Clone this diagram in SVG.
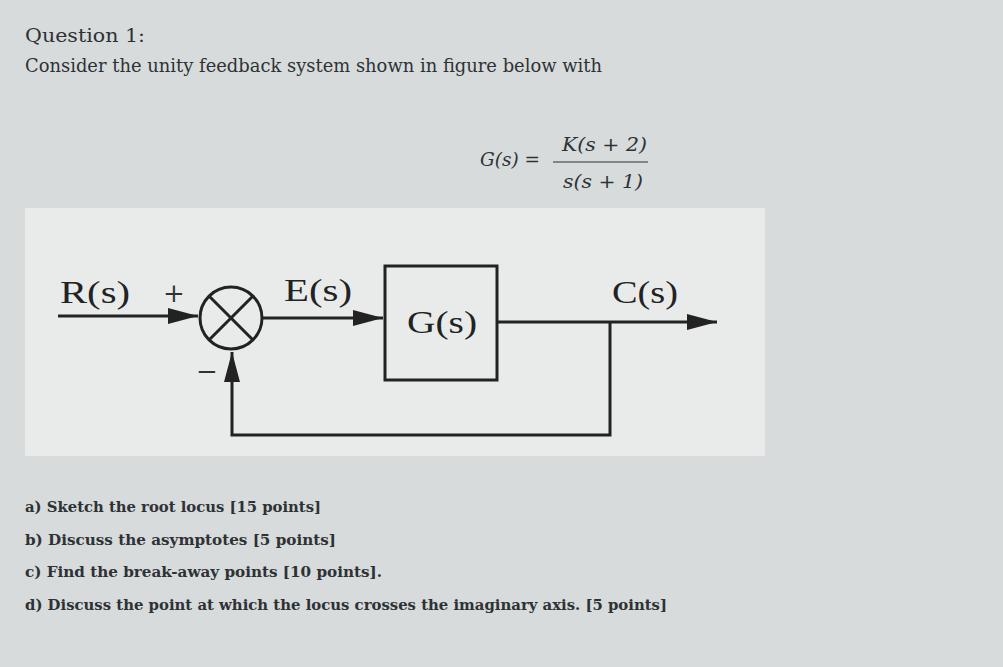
<svg xmlns="http://www.w3.org/2000/svg" width="1003" height="667" viewBox="0 0 1003 667">
<style>
.t{font-family:"DejaVu Serif","Liberation Serif",serif;fill:#2e3236}
.q{font-size:18px}
.b{font-size:15px;font-weight:bold}
.d{font-size:32px;font-family:"Liberation Serif",serif;fill:#222}
.m{font-size:18px;font-style:italic}
.ln{stroke:#222;stroke-width:3;fill:none}
</style>
<defs>
<marker id="A" viewBox="0 0 30 16" refX="30" refY="8" markerWidth="30" markerHeight="16" orient="auto" markerUnits="userSpaceOnUse"><path d="M0,0L30,8L0,16z" fill="#222"/></marker></defs>
<rect width="1003" height="667" fill="#d7dbdb"/>
<rect x="25" y="208" width="740" height="248" fill="#e9ebea"/>
<text class="t q" x="25" y="42" textLength="120" lengthAdjust="spacingAndGlyphs">Question 1:</text>
<text class="t q" x="25" y="72" textLength="577" lengthAdjust="spacingAndGlyphs">Consider the unity feedback system shown in figure below with</text>
<g id="formula">
<text class="t m" x="480" y="166" textLength="60" lengthAdjust="spacingAndGlyphs">G(s) =</text>
<text class="t m" x="562" y="151" textLength="85" lengthAdjust="spacingAndGlyphs">K(s + 2)</text>
<line x1="553" y1="162" x2="648" y2="162" stroke="#333" stroke-width="1.2"/>
<text class="t m" x="563" y="188" textLength="80" lengthAdjust="spacingAndGlyphs">s(s + 1)</text>
</g>
<g id="connectors">
<line class="ln" x1="58" y1="316" x2="198" y2="316" marker-end="url(#A)"/>
<line class="ln" x1="263" y1="318" x2="383" y2="318" marker-end="url(#A)"/>
<line class="ln" x1="497" y1="322" x2="717" y2="322" marker-end="url(#A)"/>
<polyline class="ln" points="610,322 610,435 232,435 232,352" marker-end="url(#A)"/>
</g>
<g id="sum">
<circle cx="231" cy="318" r="31" class="ln"/>
<line class="ln" x1="209" y1="296" x2="253" y2="340"/>
<line class="ln" x1="253" y1="296" x2="209" y2="340"/>
</g>
<g id="G">
<rect x="385" y="266" width="112" height="114" class="ln"/>
<text class="d" x="407" y="333" textLength="70" lengthAdjust="spacingAndGlyphs">G(s)</text>
</g>
<g id="labels">
<text class="d" x="60" y="303" textLength="70" lengthAdjust="spacingAndGlyphs">R(s)</text>
<text class="t" x="163" y="302" font-size="26">+</text>
<text class="t" x="196" y="380" font-size="26">−</text>
<text class="d" x="284" y="301" textLength="68" lengthAdjust="spacingAndGlyphs">E(s)</text>
<text class="d" x="612" y="303" textLength="66" lengthAdjust="spacingAndGlyphs">C(s)</text>
</g>
<text class="t b" x="25" y="512" textLength="296" lengthAdjust="spacingAndGlyphs">a) Sketch the root locus [15 points]</text>
<text class="t b" x="25" y="545" textLength="311" lengthAdjust="spacingAndGlyphs">b) Discuss the asymptotes [5 points]</text>
<text class="t b" x="25" y="577" textLength="357" lengthAdjust="spacingAndGlyphs">c) Find the break-away points [10 points].</text>
<text class="t b" x="25" y="610" textLength="642" lengthAdjust="spacingAndGlyphs">d) Discuss the point at which the locus crosses the imaginary axis. [5 points]</text>
</svg>
